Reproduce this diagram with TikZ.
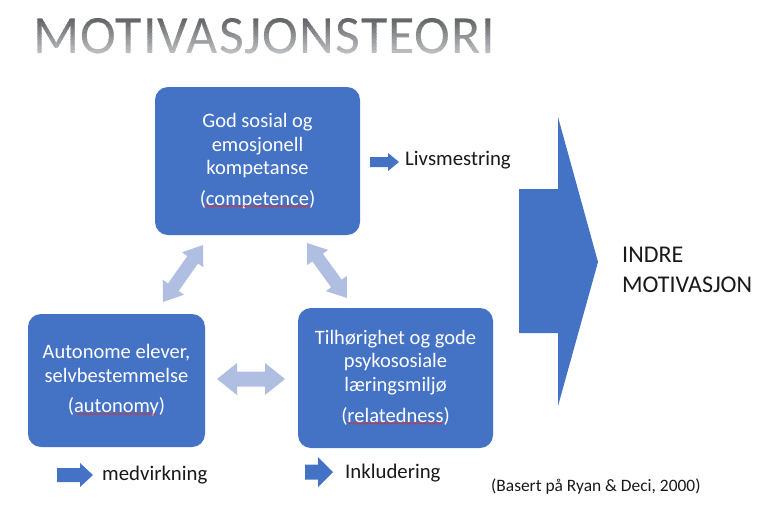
\documentclass[tikz,border=0pt]{standalone}
\usepackage{fontspec}
\setmainfont{Carlito}
\usetikzlibrary{decorations.pathmorphing}
\definecolor{boxblue}{HTML}{4472C4}
\definecolor{lightarr}{HTML}{B0BFE1}
\definecolor{ttop}{HTML}{5C5D61}
\definecolor{tbot}{HTML}{C2C4C7}
\definecolor{sqred}{HTML}{E03030}
\newlength\decioff
\newlength\deciend
\tikzset{
  bluebox/.style={fill=boxblue, rounded corners=13pt, inner sep=0pt},
  boxtext/.style={text=white, font=\fontsize{20.5}{23.5}\selectfont, align=center, inner sep=0pt},
  outtext/.style={text=black!90, font=\fontsize{20.8}{24}\selectfont, inner sep=0pt, anchor=west},
  citefont/.style={font=\fontsize{17.4}{19}\selectfont},
  spellline/.style={draw=sqred, line width=0.6pt, decorate, decoration={snake, amplitude=0.6pt, segment length=2.4pt}},
  pics/sarrow/.style n args={4}{code={
    \fill[boxblue] (0,-#2/2) -- (#3,-#2/2) -- (#3,-#4/2) -- (#1,0) -- (#3,#4/2) -- (#3,#2/2) -- (0,#2/2) -- cycle;}},
  pics/darrow/.style n args={4}{code={
    \fill[lightarr] (-#1/2,0) -- (-#1/2+#3,#4/2) -- (-#1/2+#3,#2/2) -- (#1/2-#3,#2/2) -- (#1/2-#3,#4/2) -- (#1/2,0)
      -- (#1/2-#3,-#4/2) -- (#1/2-#3,-#2/2) -- (-#1/2+#3,-#2/2) -- (-#1/2+#3,-#4/2) -- cycle;}}
}
\begin{document}
\begin{tikzpicture}[x=1pt,y=-1pt]
\settowidth{\decioff}{\fontsize{17.4}{19}\selectfont (Basert på Ryan \& }
\settowidth{\deciend}{\fontsize{17.4}{19}\selectfont (Basert på Ryan \& Deci}
\useasboundingbox (0,0) rectangle (768,509);
\fill[white] (0,0) rectangle (768,509);

% title with vertical gradient
\foreach \i in {0,...,11}{
  \pgfmathtruncatemacro\pc{100-\i*100/11}
  \begin{scope}
    \clip (0,{16+\i*3.4}) rectangle (768,{16+(\i+1)*3.4});
    \node[anchor=base west, inner sep=0pt, text=ttop!\pc!tbot, font=\fontsize{54}{54}\selectfont\addfontfeature{LetterSpace=1.9}] (title\i) at (33,53.5) {MOTIVASJONSTEORI};
  \end{scope}
}

% boxes
\node[bluebox, minimum width=205pt, minimum height=148pt] (comp) at (257.5,161) {};
\node[boxtext] (comptxt) at (comp.center) {God sosial og\\emosjonell\\kompetanse\\[7pt](competence)};

\node[bluebox, minimum width=177pt, minimum height=133pt] (auto) at (116.5,380.5) {};
\node[boxtext] (autotxt) at (auto.center) {Autonome elever,\\selvbestemmelse\\[7pt](autonomy)};

\node[bluebox, minimum width=195pt, minimum height=140pt] (rel) at (395.5,378) {};
\node[boxtext] (reltxt) at (rel.center) {Tilhørighet og gode\\psykososiale\\læringsmiljø\\[8pt](relatedness)};

% spell-check marks
\draw[spellline] ([xshift=-53pt,yshift=2.5pt]comptxt.south) -- ([xshift=53pt,yshift=2.5pt]comptxt.south);
\draw[spellline] ([xshift=-40pt,yshift=2.5pt]autotxt.south) -- ([xshift=40pt,yshift=2.5pt]autotxt.south);
\draw[spellline] ([xshift=-47pt,yshift=2.5pt]reltxt.south) -- ([xshift=47pt,yshift=2.5pt]reltxt.south);

% light double arrows
\pic[rotate=54.9] at (183,273.5) {darrow={69.6}{13}{18}{26}};
\pic[rotate=-54] at (327,270.5) {darrow={68}{13}{18}{26}};
\pic at (251,379) {darrow={68}{15}{20}{32}};

% big arrow
\fill[boxblue] (519,189) -- (558,189) -- (558,117) -- (598,262) -- (558,406) -- (558,333) -- (519,333) -- cycle;
\node[text=black!90, font=\fontsize{24}{30}\selectfont, align=left, inner sep=0pt, anchor=west] (indre) at (622,270) {INDRE\\MOTIVASJON};

% small arrows and labels
\pic at (370,162) {sarrow={29}{10}{18}{18}};
\node[outtext] (livs) at (405,160) {Livsmestring};

\pic at (57,475) {sarrow={36}{14}{23}{24}};
\node[outtext] (medv) at (102,475) {medvirkning};

\pic at (305,472) {sarrow={28}{15}{13}{30}};
\node[outtext] (inkl) at (345,473) {Inkludering};

\node[text=black!90, citefont, inner sep=0pt, anchor=west] (cite) at (491,487) {(Basert på Ryan \& Deci, 2000)};
\draw[spellline] ([xshift=\decioff,yshift=-2.8pt]cite.base west) -- ([xshift=\deciend,yshift=-2.8pt]cite.base west);
\end{tikzpicture}
\end{document}
